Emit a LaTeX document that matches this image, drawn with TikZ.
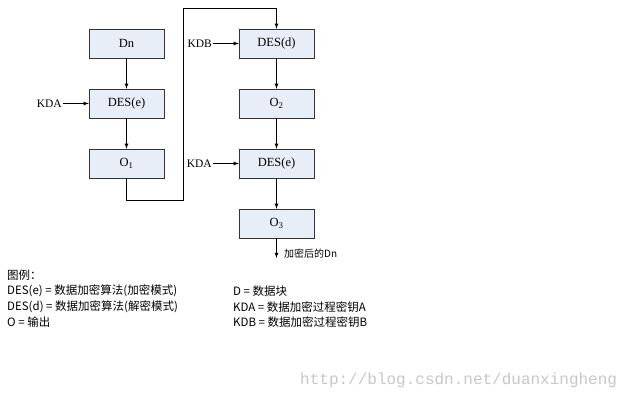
\documentclass[tikz,border=0pt]{standalone}
\usepackage{fontspec}
\setmainfont{Liberation Serif}
\setmonofont{Liberation Mono}
\newfontfamily\cjk{Noto Sans CJK SC}
\usetikzlibrary{positioning}
\definecolor{boxfill}{HTML}{E8EEF7}
\tikzset{
	blk/.style={draw=black!80, fill=boxfill, minimum width=75pt, minimum height=29pt, inner sep=0pt, font=\fontsize{12.5}{14}\selectfont},
	lab/.style={inner sep=1pt, font=\fontsize{11.5}{12}\selectfont},
	leg/.style={anchor=west, inner sep=0pt, font=\cjk\fontsize{11.5}{12}\selectfont},
	arr/.style={-latex, thick}
}
\begin{document}
\begin{tikzpicture}[x=1pt,y=-1pt]
	\useasboundingbox (0,0) rectangle (640,400);
	
	% Bloques
	\node[blk] (dn)   at (126.5,43.5)  {Dn};
	\node[blk] (dese) at (126.5,103.5) {DES(e)};
	\node[blk] (o1)   at (126.5,163.5) {O\textsubscript{1}};
	\node[blk] (desd) at (276.5,43.5)  {DES(d)};
	\node[blk] (o2)   at (276.5,103.5) {O\textsubscript{2}};
	\node[blk] (desf) at (276.5,163.5) {DES(e)};
	\node[blk] (o3)   at (276.5,223.5) {O\textsubscript{3}};
	
	% Claves
	\node[lab, anchor=east] (kda1) at (63,103.5)  {KDA};
	\node[lab, anchor=east] (kdb)  at (213,43.5)  {KDB};
	\node[lab, anchor=east] (kda2) at (213,163.5) {KDA};
	\coordinate (out) at (276.5,258);
	\node[leg, anchor=west, font=\cjk\fontsize{10}{12}\selectfont] (outl) at (284,254) {加密后的Dn};
	
	% Flechas
	\draw[arr] (dn) -- (dese);
	\draw[arr] (dese) -- (o1);
	\draw[arr] (desd) -- (o2);
	\draw[arr] (o2) -- (desf);
	\draw[arr] (desf) -- (o3);
	\draw[arr] (o3) -- (out);
	\draw[arr] (kda1) -- (dese);
	\draw[arr] (kdb) -- (desd);
	\draw[arr] (kda2) -- (desf);
	\draw[arr] (o1.south) |- (183,200) |- (276.5,8) -- (desd.north);
	
	% Leyenda
	\node[leg] (l0) at (7,275) {图例：};
	\node[leg] (l1) at (7,291) {DES(e) = 数据加密算法(加密模式)};
	\node[leg] (l2) at (7,307) {DES(d) = 数据加密算法(解密模式)};
	\node[leg] (l3) at (7,322) {O = 输出};
	\node[leg] (r1) at (233,291) {D = 数据块};
	\node[leg] (r2) at (233,307) {KDA = 数据加密过程密钥A};
	\node[leg] (r3) at (233,322) {KDB = 数据加密过程密钥B};
	\node[leg, text=black!22, font=\ttfamily\fontsize{16}{18}\selectfont] (wm) at (300,380) {http://blog.csdn.net/duanxingheng};
\end{tikzpicture}
\end{document}
